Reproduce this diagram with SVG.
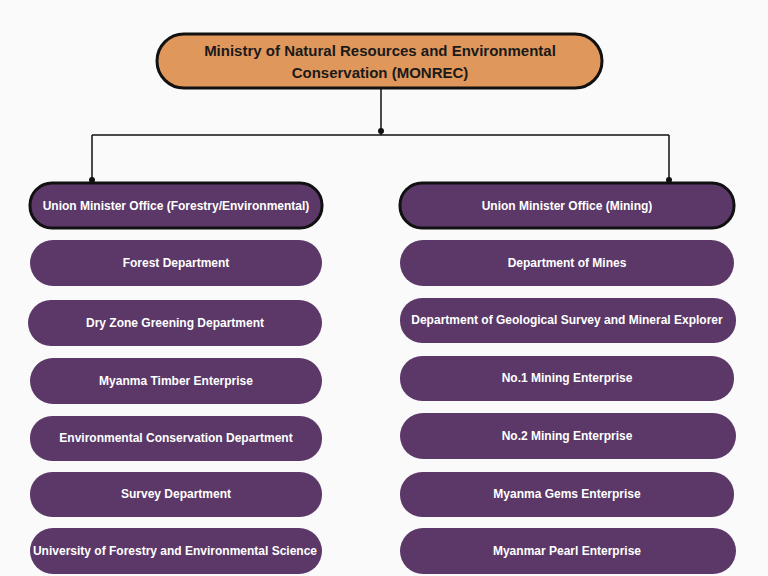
<svg xmlns="http://www.w3.org/2000/svg" width="768" height="576" viewBox="0 0 768 576">
<style>
.n{fill:#5B3868}
.s{stroke:#111;stroke-width:3}
.t{font-family:"Liberation Sans",Arial,sans-serif;font-weight:bold;font-size:12px;fill:#fff;text-anchor:middle}
.h{font-family:"Liberation Sans",Arial,sans-serif;font-weight:bold;font-size:15px;fill:#1a1a1a;text-anchor:middle}
.c{stroke:#111;stroke-width:1.5;fill:none}
</style>
<rect width="768" height="576" fill="#FAFAFA"/>
<g id="connectors">
<path class="c" d="M381 88V131M92 135H669M92 135V180M669 135V180M381 131V135"/>
<circle cx="381" cy="131" r="3" fill="#111"/>
<circle cx="92" cy="180" r="3" fill="#111"/>
<circle cx="669" cy="180" r="3" fill="#111"/>
</g>
<g id="monrec"><rect x="157" y="34" width="445" height="54" rx="27" fill="#E0975B" class="s"/>
<text class="h" x="380" y="56">Ministry of Natural Resources and Environmental</text>
<text class="h" x="380" y="78">Conservation (MONREC)</text></g>
<g id="umo-forestry"><rect x="30" y="183" width="292" height="45" rx="22" class="n s"/><text class="t" x="176" y="210">Union Minister Office (Forestry/Environmental)</text></g>
<g id="umo-mining"><rect x="400" y="183" width="334" height="45" rx="22" class="n s"/><text class="t" x="567" y="210">Union Minister Office (Mining)</text></g>
<g id="forest"><rect x="30" y="240" width="292" height="46" rx="23" class="n"/><text class="t" x="176" y="267">Forest Department</text></g>
<g id="dryzone"><rect x="28" y="300" width="294" height="46" rx="23" class="n"/><text class="t" x="175" y="327">Dry Zone Greening Department</text></g>
<g id="timber"><rect x="30" y="358" width="292" height="46" rx="23" class="n"/><text class="t" x="176" y="385">Myanma Timber Enterprise</text></g>
<g id="envcons"><rect x="30" y="416" width="292" height="45" rx="22" class="n"/><text class="t" x="176" y="442">Environmental Conservation Department</text></g>
<g id="survey"><rect x="30" y="472" width="292" height="45" rx="22" class="n"/><text class="t" x="176" y="498">Survey Department</text></g>
<g id="univ"><rect x="30" y="528" width="292" height="46" rx="23" class="n"/><text class="t" x="175" y="555">University of Forestry and Environmental Science</text></g>
<g id="mines"><rect x="400" y="240" width="334" height="46" rx="23" class="n"/><text class="t" x="567" y="267">Department of Mines</text></g>
<g id="geo"><rect x="400" y="298" width="336" height="45" rx="22" class="n"/><text class="t" x="567" y="324">Department of Geological Survey and Mineral Explorer</text></g>
<g id="no1"><rect x="400" y="356" width="334" height="45" rx="22" class="n"/><text class="t" x="567" y="382">No.1 Mining Enterprise</text></g>
<g id="no2"><rect x="400" y="413" width="336" height="46" rx="23" class="n"/><text class="t" x="567" y="440">No.2 Mining Enterprise</text></g>
<g id="gems"><rect x="400" y="472" width="334" height="45" rx="22" class="n"/><text class="t" x="567" y="498">Myanma Gems Enterprise</text></g>
<g id="pearl"><rect x="400" y="528" width="336" height="46" rx="23" class="n"/><text class="t" x="567" y="555">Myanmar Pearl Enterprise</text></g>
</svg>
